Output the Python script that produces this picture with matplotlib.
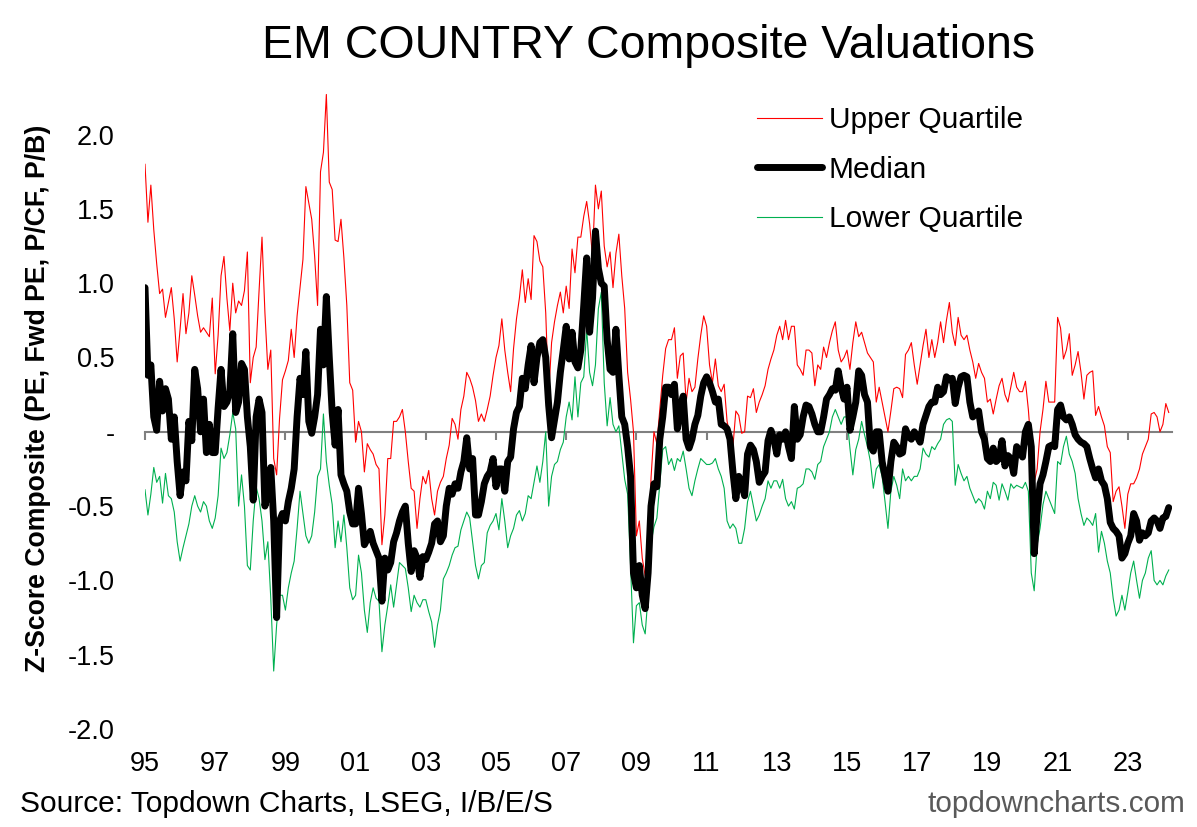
import numpy as np
import matplotlib
matplotlib.use("Agg")
import matplotlib.pyplot as plt

plt.rcParams['font.family'] = ['Liberation Sans', 'DejaVu Sans']

# monthly readings, one row per year from 1995, last row is the start of 2024
upper_quartile = [
    1.80, 1.41, 1.66, 1.36, 1.13, 0.93, 0.96, 0.77, 0.87, 0.97, 0.76, 0.47,
    0.69, 0.93, 0.66, 0.80, 1.05, 0.92, 0.78, 0.67, 0.70, 0.67, 0.64, 0.90,
    0.39, 0.65, 1.05, 1.18, 0.90, 0.68, 1.00, 0.80, 0.88, 0.85, 0.95, 1.21,
    0.33, 0.50, 0.57, 0.95, 1.31, 0.80, 0.42, 0.55, -0.18, -0.29, 0.09, 0.35,
    0.41, 0.48, 0.69, 0.50, 0.78, 0.97, 1.16, 1.65, 1.54, 1.43, 1.18, 0.85,
    1.75, 1.88, 2.27, 1.68, 1.63, 1.29, 1.28, 1.43, 1.17, 0.85, 0.33, 0.28,
    -0.07, 0.07, 0.00, -0.27, -0.08, -0.12, -0.15, -0.22, -0.25, -0.76, -0.56, -0.18,
    -0.18, 0.07, 0.07, 0.10, 0.15, 0.00, -0.20, -0.38, -0.40, -0.65, -0.45, -0.30,
    -0.35, -0.26, -0.45, -0.56, -0.40, -0.34, -0.30, -0.18, -0.09, 0.09, 0.05, -0.05,
    0.15, 0.24, 0.40, 0.36, 0.30, 0.21, 0.07, 0.12, 0.07, 0.15, 0.24, 0.38,
    0.50, 0.58, 0.76, 0.55, 0.40, 0.27, 0.56, 0.76, 0.90, 1.09, 0.87, 1.03,
    0.89, 1.32, 1.28, 1.15, 1.11, 0.80, 0.24, 0.60, 0.74, 0.85, 0.94, 0.80,
    0.98, 0.83, 1.23, 1.07, 1.31, 1.31, 1.45, 1.55, 1.40, 1.18, 1.66, 1.50,
    1.62, 1.25, 1.11, 1.21, 0.97, 1.20, 1.33, 1.05, 0.83, 0.40, 0.22, 0.00,
    -0.70, -0.60, -0.85, -0.97, -0.90, -0.31, 0.00, -0.08, 0.15, 0.38, 0.56, 0.62,
    0.62, 0.70, 0.36, 0.51, 0.53, 0.20, 0.36, 0.27, 0.30, 0.49, 0.65, 0.78,
    0.71, 0.45, 0.33, 0.49, 0.31, 0.27, 0.32, 0.07, -0.02, -0.10, 0.14, 0.11,
    -0.01, 0.00, 0.24, 0.23, 0.29, 0.13, 0.20, 0.25, 0.31, 0.42, 0.49, 0.55,
    0.65, 0.71, 0.62, 0.75, 0.62, 0.71, 0.71, 0.45, 0.42, 0.38, 0.55, 0.55,
    0.53, 0.31, 0.45, 0.42, 0.57, 0.50, 0.60, 0.68, 0.74, 0.55, 0.47, 0.50,
    0.55, 0.42, 0.60, 0.74, 0.64, 0.67, 0.60, 0.53, 0.50, 0.47, 0.20, 0.30,
    0.20, 0.10, 0.00, 0.14, 0.29, 0.30, 0.29, 0.23, 0.52, 0.55, 0.60, 0.45,
    0.32, 0.45, 0.58, 0.69, 0.50, 0.62, 0.50, 0.60, 0.74, 0.60, 0.75, 0.87,
    0.67, 0.58, 0.77, 0.65, 0.62, 0.65, 0.55, 0.47, 0.36, 0.46, 0.40, 0.36,
    0.20, 0.22, 0.12, 0.22, 0.31, 0.36, 0.25, 0.20, 0.30, 0.40, 0.30, 0.27,
    0.27, 0.34, 0.15, -0.11, -0.34, -0.25, 0.00, 0.15, 0.34, 0.20, 0.20, 0.20,
    0.77, 0.70, 0.49, 0.55, 0.66, 0.38, 0.45, 0.54, 0.40, 0.22, 0.38, 0.40,
    0.41, 0.11, 0.17, 0.10, 0.04, -0.10, -0.14, -0.47, -0.40, -0.37, -0.50, -0.65,
    -0.42, -0.35, -0.35, -0.31, -0.25, -0.15, -0.10, -0.05, 0.12, 0.13, 0.10, 0.00,
    0.05, 0.19, 0.13,
]

median = [
    0.97, 0.38, 0.45, 0.10, 0.01, 0.34, 0.14, 0.29, 0.22, -0.05, 0.10, -0.20,
    -0.43, -0.27, -0.33, 0.07, -0.06, 0.42, 0.29, 0.00, 0.22, -0.14, 0.05, -0.14,
    -0.14, 0.16, 0.42, 0.17, 0.20, 0.27, 0.66, 0.13, 0.20, 0.46, 0.42, 0.10,
    -0.10, -0.46, 0.10, 0.22, 0.13, -0.50, -0.40, -0.24, -0.60, -1.25, -0.60, -0.55,
    -0.60, -0.47, -0.38, -0.25, 0.10, 0.36, 0.25, 0.54, 0.07, -0.01, 0.10, 0.25,
    0.69, 0.45, 0.91, 0.50, 0.13, -0.09, 0.15, -0.29, -0.35, -0.40, -0.54, -0.62,
    -0.62, -0.38, -0.55, -0.76, -0.72, -0.67, -0.75, -0.80, -0.85, -1.14, -0.85, -0.93,
    -0.88, -0.74, -0.68, -0.60, -0.54, -0.50, -0.75, -0.94, -0.80, -0.85, -0.98, -0.84,
    -0.86, -0.81, -0.75, -0.62, -0.60, -0.74, -0.70, -0.50, -0.38, -0.42, -0.35, -0.38,
    -0.27, -0.20, -0.04, -0.25, -0.18, -0.56, -0.56, -0.47, -0.35, -0.30, -0.27, -0.18,
    -0.37, -0.25, -0.25, -0.40, -0.20, -0.17, 0.02, 0.13, 0.17, 0.36, 0.29, 0.45,
    0.58, 0.33, 0.50, 0.60, 0.62, 0.50, 0.18, -0.04, 0.08, 0.20, 0.40, 0.55,
    0.71, 0.49, 0.67, 0.47, 0.43, 0.55, 0.85, 1.17, 0.67, 0.90, 1.35, 1.10,
    1.00, 0.98, 0.62, 0.42, 0.40, 0.69, 0.38, 0.10, 0.05, -0.10, -0.30, -0.95,
    -1.05, -0.90, -1.10, -1.19, -0.95, -0.50, -0.35, -0.37, -0.05, 0.10, 0.30, 0.30,
    0.25, 0.32, 0.02, 0.15, 0.24, -0.05, -0.11, -0.05, 0.05, 0.11, 0.24, 0.33,
    0.37, 0.33, 0.27, 0.20, 0.22, 0.05, 0.04, 0.02, -0.05, -0.27, -0.45, -0.30,
    -0.35, -0.43, -0.15, -0.09, -0.12, -0.20, -0.34, -0.30, -0.27, -0.06, 0.01, -0.05,
    -0.15, -0.02, -0.05, 0.00, -0.10, -0.18, 0.17, -0.05, -0.02, 0.10, 0.18, 0.17,
    0.12, 0.05, 0.00, 0.00, 0.10, 0.22, 0.25, 0.29, 0.28, 0.41, 0.30, 0.22,
    0.30, 0.01, 0.10, 0.20, 0.41, 0.38, 0.25, 0.20, -0.10, -0.13, 0.00, 0.00,
    -0.20, -0.30, -0.40, -0.20, -0.07, -0.10, -0.15, -0.14, 0.02, -0.03, -0.05, 0.00,
    -0.03, -0.07, 0.05, 0.11, 0.17, 0.20, 0.20, 0.30, 0.25, 0.27, 0.37, 0.35,
    0.36, 0.19, 0.30, 0.37, 0.38, 0.37, 0.20, 0.10, 0.12, 0.14, 0.00, -0.05,
    -0.18, -0.20, -0.11, -0.20, -0.18, -0.06, -0.23, -0.16, -0.18, -0.28, -0.10, -0.13,
    -0.17, 0.00, 0.05, -0.10, -0.82, -0.55, -0.35, -0.29, -0.20, -0.10, -0.09, -0.10,
    0.15, 0.18, 0.10, 0.08, 0.10, 0.05, -0.02, -0.05, -0.07, -0.08, -0.10, -0.18,
    -0.25, -0.31, -0.25, -0.33, -0.36, -0.45, -0.61, -0.65, -0.67, -0.70, -0.85, -0.82,
    -0.75, -0.70, -0.55, -0.60, -0.73, -0.68, -0.70, -0.68, -0.60, -0.58, -0.60, -0.65,
    -0.58, -0.57, -0.51,
]

lower_quartile = [
    -0.39, -0.56, -0.42, -0.24, -0.34, -0.30, -0.48, -0.28, -0.43, -0.45, -0.54, -0.74,
    -0.87, -0.78, -0.70, -0.62, -0.50, -0.43, -0.50, -0.54, -0.47, -0.50, -0.60, -0.65,
    -0.58, -0.43, -0.11, -0.18, -0.14, -0.02, 0.13, 0.02, -0.50, -0.29, -0.50, -0.90,
    -0.93, -0.60, -0.37, -0.45, -0.60, -0.86, -0.74, -1.12, -1.61, -1.30, -1.10, -1.10,
    -1.20, -1.05, -0.95, -0.87, -0.65, -0.40, -0.55, -0.70, -0.75, -0.70, -0.54, -0.30,
    -0.25, 0.12, -0.20, -0.36, -0.49, -0.78, -0.60, -0.74, -0.56, -0.78, -1.05, -1.13,
    -1.10, -0.83, -0.95, -1.20, -1.35, -1.15, -1.05, -1.12, -1.14, -1.48, -1.30, -1.17,
    -1.03, -1.18, -1.03, -0.88, -0.90, -0.92, -1.05, -1.21, -1.10, -1.15, -1.18, -1.13,
    -1.13, -1.21, -1.28, -1.45, -1.30, -1.20, -0.99, -0.95, -0.90, -0.83, -0.78, -0.77,
    -0.66, -0.60, -0.54, -0.58, -0.74, -0.90, -0.99, -0.90, -0.88, -0.68, -0.63, -0.60,
    -0.55, -0.66, -0.45, -0.60, -0.78, -0.70, -0.65, -0.56, -0.53, -0.60, -0.55, -0.43,
    -0.45, -0.34, -0.23, -0.34, -0.20, 0.00, -0.50, -0.30, -0.22, -0.20, -0.12, -0.07,
    0.10, 0.20, 0.08, 0.37, 0.10, 0.33, 0.37, 0.69, 0.40, 0.31, 0.45, 0.83,
    0.94, 0.33, 0.04, 0.23, 0.05, 0.00, 0.04, -0.14, -0.32, -0.42, -0.90, -1.42,
    -1.17, -1.15, -1.30, -1.36, -1.10, -0.75, -0.64, -0.58, -0.35, -0.12, -0.10, -0.22,
    -0.18, -0.26, -0.18, -0.20, -0.13, -0.25, -0.38, -0.43, -0.33, -0.25, -0.18, -0.20,
    -0.22, -0.22, -0.21, -0.18, -0.25, -0.30, -0.38, -0.60, -0.65, -0.62, -0.65, -0.75,
    -0.75, -0.65, -0.47, -0.40, -0.50, -0.60, -0.56, -0.50, -0.45, -0.33, -0.38, -0.33,
    -0.33, -0.38, -0.32, -0.45, -0.50, -0.47, -0.52, -0.38, -0.37, -0.35, -0.25, -0.25,
    -0.27, -0.32, -0.22, -0.20, -0.10, -0.05, 0.00, 0.10, 0.15, 0.10, 0.05, 0.10,
    0.10, -0.11, -0.29, -0.12, -0.05, 0.07, -0.02, -0.10, -0.20, -0.38, -0.25, -0.22,
    -0.30, -0.47, -0.65, -0.40, -0.30, -0.36, -0.45, -0.25, -0.33, -0.30, -0.33, -0.30,
    -0.30, -0.25, -0.11, -0.15, -0.17, -0.10, -0.12, -0.08, -0.05, 0.05, 0.08, 0.09,
    0.07, -0.36, -0.22, -0.28, -0.33, -0.30, -0.38, -0.43, -0.48, -0.45, -0.47, -0.52,
    -0.40, -0.45, -0.34, -0.36, -0.46, -0.35, -0.40, -0.46, -0.35, -0.38, -0.36, -0.37,
    -0.38, -0.34, -0.40, -0.95, -1.07, -0.76, -0.65, -0.49, -0.40, -0.45, -0.50, -0.55,
    -0.20, -0.22, -0.10, -0.03, -0.15, -0.20, -0.28, -0.45, -0.55, -0.63, -0.58, -0.60,
    -0.63, -0.55, -0.81, -0.67, -0.75, -0.87, -0.95, -1.12, -1.24, -1.20, -1.10, -1.20,
    -1.08, -0.95, -0.87, -1.00, -1.12, -1.00, -0.95, -0.85, -0.80, -1.00, -1.03, -1.00,
    -1.03, -0.97, -0.93,
]

y_ticks = [2.0, 1.5, 1.0, 0.5, 0.0, -0.5, -1.0, -1.5, -2.0]
y_tick_labels = ['2.0', '1.5', '1.0', '0.5', '-', '-0.5', '-1.0', '-1.5', '-2.0']
x_tick_years = list(range(1995, 2024, 2))
x_tick_labels = ['95', '97', '99', '01', '03', '05', '07', '09', '11', '13', '15', '17', '19', '21', '23']

W, H = 1197, 827
fig = plt.figure(figsize=(W / 100, H / 100), dpi=100)

# axes box placed in pixels: 1995 at x=145, -2.0 at y=729, 2.3 at y=90
ax = fig.add_axes([145 / W, (H - 729) / H, (1172 - 145) / W, (729 - 90) / H])

dates = 1995 + np.arange(len(median)) / 12

ax.plot(dates, upper_quartile, color='#FF0000', lw=0.8, zorder=3, label='Upper Quartile')
ax.plot(dates, lower_quartile, color='#00B050', lw=0.8, zorder=3, label='Lower Quartile')
ax.plot(dates, median, color='black', lw=5, zorder=4, label='Median',
        solid_capstyle='round', solid_joinstyle='round')

ax.set_xlim(1995, 1995 + (1172 - 145) / 35.1)
ax.set_ylim(-2.0, 2.3)

for side in ['top', 'right', 'left']:
    ax.spines[side].set_visible(False)

# grey zero line carries the ticks, the labels sit under the plot
ax.spines['bottom'].set_position(('data', 0))
ax.spines['bottom'].set_color('#808080')
ax.spines['bottom'].set_linewidth(1.5)
ax.set_xticks(x_tick_years)
ax.tick_params(axis='x', length=6, width=1.5, color='#808080', labelbottom=False)

labels_ax = ax.secondary_xaxis(-0.0)
labels_ax.spines['bottom'].set_visible(False)
labels_ax.set_xticks(x_tick_years)
labels_ax.set_xticklabels(x_tick_labels, fontsize=19.5)
labels_ax.tick_params(axis='x', length=0, pad=16)

ax.set_yticks(y_ticks)
ax.set_yticklabels(y_tick_labels, fontsize=19.5)
ax.tick_params(axis='y', length=0, pad=22)

fig.text(38 / W, 1 - 398 / H, 'Z-Score Composite (PE, Fwd PE, P/CF, P/B)', rotation=90,
         fontsize=19.2, fontweight='bold', ha='center', va='center')
fig.text(649 / W, 1 - 46 / H, 'EM COUNTRY Composite Valuations', fontsize=33.5,
         ha='center', va='center')
fig.text(20 / W, 1 - 804 / H, 'Source: Topdown Charts, LSEG, I/B/E/S', fontsize=21.5,
         ha='left', va='center')
fig.text(1185 / W, 1 - 804 / H, 'topdowncharts.com', fontsize=21.4, color='#595959',
         ha='right', va='center')

handles, names = ax.get_legend_handles_labels()
order = [0, 2, 1]
ax.legend([handles[i] for i in order], [names[i] for i in order],
          loc='upper left', bbox_to_anchor=(757 / W, 1 - 106 / H),
          bbox_transform=fig.transFigure, frameon=False, fontsize=21.5,
          borderpad=0, borderaxespad=0, handlelength=2.17, handletextpad=0.23,
          labelspacing=0.72)

fig.savefig('out.png', dpi=100)
